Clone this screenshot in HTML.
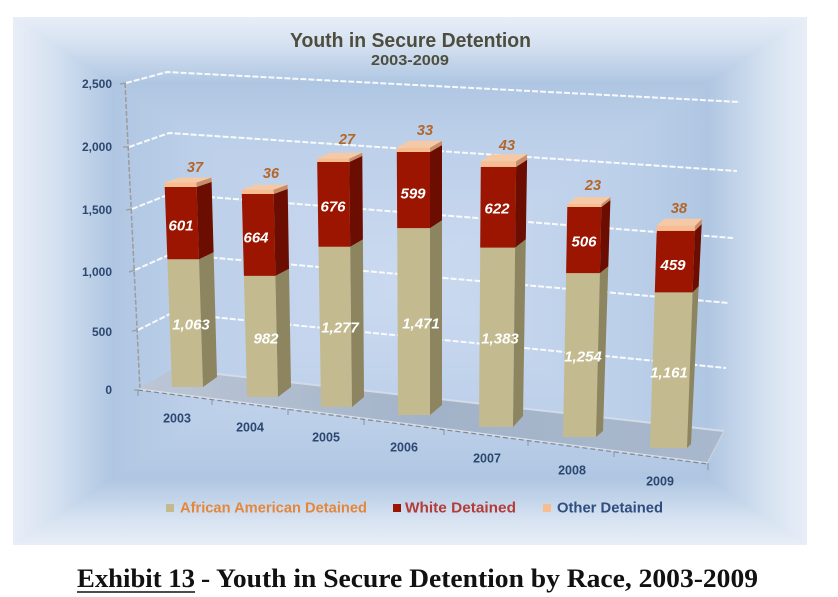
<!DOCTYPE html>
<html><head><meta charset="utf-8"><style>
html,body{margin:0;padding:0;background:#fff;}
svg{display:block;}
text{font-family:"Liberation Sans",Arial,sans-serif;}
</style></head><body>
<svg width="838" height="597" viewBox="0 0 838 597" xmlns="http://www.w3.org/2000/svg">
<defs>
<linearGradient id="gT" gradientUnits="userSpaceOnUse" x1="0" y1="17" x2="0" y2="281">
<stop offset="0" stop-color="#e8eef7"/><stop offset="0.1" stop-color="#d6e2f1"/><stop offset="0.25" stop-color="#afc6e2"/><stop offset="0.45" stop-color="#bccfe9"/><stop offset="1" stop-color="#cbdaf0"/></linearGradient>
<linearGradient id="gB" gradientUnits="userSpaceOnUse" x1="0" y1="545" x2="0" y2="281">
<stop offset="0" stop-color="#e8eef7"/><stop offset="0.1" stop-color="#d6e2f1"/><stop offset="0.25" stop-color="#afc6e2"/><stop offset="0.45" stop-color="#bccfe9"/><stop offset="1" stop-color="#cbdaf0"/></linearGradient>
<linearGradient id="gL" gradientUnits="userSpaceOnUse" x1="13" y1="0" x2="410" y2="0">
<stop offset="0" stop-color="#e8eef7"/><stop offset="0.1" stop-color="#d6e2f1"/><stop offset="0.25" stop-color="#afc6e2"/><stop offset="0.45" stop-color="#bccfe9"/><stop offset="1" stop-color="#cbdaf0"/></linearGradient>
<linearGradient id="gR" gradientUnits="userSpaceOnUse" x1="807" y1="0" x2="410" y2="0">
<stop offset="0" stop-color="#e8eef7"/><stop offset="0.1" stop-color="#d6e2f1"/><stop offset="0.25" stop-color="#afc6e2"/><stop offset="0.45" stop-color="#bccfe9"/><stop offset="1" stop-color="#cbdaf0"/></linearGradient>
<linearGradient id="gFloor" gradientUnits="userSpaceOnUse" x1="138" y1="0" x2="724" y2="0">
<stop offset="0" stop-color="#bcc6d5"/><stop offset="0.5" stop-color="#a2b3c9"/><stop offset="1" stop-color="#a9b8cc"/></linearGradient>
</defs>

<!-- background panel (rectangular gradient) -->
<g shape-rendering="crispEdges">
<polygon points="13,17 807,17 410,281" fill="url(#gT)"/>
<polygon points="13,545 807,545 410,281" fill="url(#gB)"/>
<polygon points="13,17 13,545 410,281" fill="url(#gL)"/>
<polygon points="807,17 807,545 410,281" fill="url(#gR)"/>
</g>

<!-- gridlines -->
<g fill="none" stroke="#ffffff" stroke-width="2" stroke-dasharray="6 2" opacity="0.9">
<polyline points="126,83 167,72 740,102"/>
<polyline points="129,147 169,133 737,171"/>
<polyline points="132,209 170,194 733,238"/>
<polyline points="135,270 171,254 729,303"/>
<polyline points="138,330 172,313 726,368"/>
</g>

<!-- y axis -->
<line x1="125" y1="83" x2="140" y2="390" stroke="#9c9c9c" stroke-width="1.5" stroke-dasharray="5 2"/>
<g stroke="#9c9c9c" stroke-width="1.2">
<line x1="120" y1="84" x2="126" y2="83"/>
<line x1="123" y1="147" x2="129" y2="147"/>
<line x1="126" y1="210" x2="132" y2="209"/>
<line x1="129" y1="272" x2="135" y2="270"/>
<line x1="132" y1="331" x2="138" y2="330"/>
<line x1="134" y1="390" x2="140" y2="390"/>
</g>

<!-- floor -->
<polygon points="138,389 173,369 724,431 708,462" fill="url(#gFloor)"/>
<polyline points="173,369 724,431" fill="none" stroke="#d2dbe7" stroke-width="2"/>
<line x1="138" y1="389" x2="708" y2="463" stroke="#d9dee6" stroke-width="1.5"/>
<line x1="138" y1="390" x2="708" y2="464" stroke="#7f8896" stroke-width="1.2" stroke-dasharray="5 3"/>
<line x1="708" y1="462" x2="724" y2="431" stroke="#c8d0dc" stroke-width="1.5"/>
<g stroke="#8a929e" stroke-width="1">
<line x1="138" y1="390" x2="138" y2="396"/>
<line x1="212" y1="399" x2="212" y2="405"/>
<line x1="288" y1="409" x2="288" y2="415"/>
<line x1="364" y1="419" x2="364" y2="425"/>
<line x1="444" y1="429" x2="444" y2="435"/>
<line x1="528" y1="440" x2="528" y2="446"/>
<line x1="614" y1="451" x2="614" y2="457"/>
<line x1="708" y1="463" x2="708" y2="470"/>
</g>

<!-- bars -->
<g stroke="none">
<!-- 2003 -->
<polygon points="172,387 203,387 199,259.2 167.4,259.2" fill="#c3ba8f"/>
<polygon points="167.4,259.2 199,259.2 196.6,187 164.7,187" fill="#9b1500"/>
<polygon points="164.7,187 196.6,187 196.5,182.5 164.6,182.5" fill="#f7bd90"/>
<polygon points="203,387 199,259.2 213.6,252.3 217,377" fill="#8d855f"/>
<polygon points="199,259.2 196.6,187 211.6,181.9 213.6,252.3" fill="#6b0d00"/>
<polygon points="196.6,187 196.5,182.5 211.5,177.5 211.6,181.9" fill="#c98e68"/>
<polygon points="164.6,182.5 196.5,182.5 211.5,177.5 179.6,177.5" fill="#f5c9a5"/>
<!-- 2004 -->
<polygon points="247,397 278,397 275.4,275.9 243.9,275.9" fill="#c3ba8f"/>
<polygon points="243.9,275.9 275.4,275.9 273.7,194 241.8,194" fill="#9b1500"/>
<polygon points="241.8,194 273.7,194 273.6,189.6 241.7,189.6" fill="#f7bd90"/>
<polygon points="278,397 275.4,275.9 289,268.8 291,387" fill="#8d855f"/>
<polygon points="275.4,275.9 273.7,194 287.7,188.9 289,268.8" fill="#6b0d00"/>
<polygon points="273.7,194 273.6,189.6 287.6,184.6 287.7,188.9" fill="#c98e68"/>
<polygon points="241.7,189.6 273.6,189.6 287.6,184.6 255.7,184.6" fill="#f5c9a5"/>
<!-- 2005 -->
<polygon points="321,407 352,407 350.2,246.8 318.5,246.8" fill="#c3ba8f"/>
<polygon points="318.5,246.8 350.2,246.8 349.3,162 317.2,162" fill="#9b1500"/>
<polygon points="317.2,162 349.3,162 349.3,158.6 317.2,158.6" fill="#f7bd90"/>
<polygon points="352,407 350.2,246.8 362.9,239.4 364,397" fill="#8d855f"/>
<polygon points="350.2,246.8 349.3,162 362.3,155.9 362.9,239.4" fill="#6b0d00"/>
<polygon points="349.3,162 349.3,158.6 362.3,152.6 362.3,155.9" fill="#c98e68"/>
<polygon points="317.2,158.6 349.3,158.6 362.3,152.6 330.2,152.6" fill="#f5c9a5"/>
<!-- 2006 -->
<polygon points="398,415 430,415 430,228.1 397.2,228.1" fill="#c3ba8f"/>
<polygon points="397.2,228.1 430,228.1 430,152 396.8,152" fill="#9b1500"/>
<polygon points="396.8,152 430,152 430,147.8 396.8,147.8" fill="#f7bd90"/>
<polygon points="430,415 430,228.1 442,220.2 442,405" fill="#8d855f"/>
<polygon points="430,228.1 430,152 442,145 442,220.2" fill="#6b0d00"/>
<polygon points="430,152 430,147.8 442,140.8 442,145" fill="#c98e68"/>
<polygon points="396.8,147.8 430,147.8 442,140.8 408.8,140.8" fill="#f5c9a5"/>
<!-- 2007 -->
<polygon points="479,427 513,427 515.1,247.6 480.2,247.6" fill="#c3ba8f"/>
<polygon points="480.2,247.6 515.1,247.6 516.1,166.9 480.8,166.9" fill="#9b1500"/>
<polygon points="480.8,166.9 516.1,166.9 516.1,161.3 480.8,161.3" fill="#f7bd90"/>
<polygon points="513,427 515.1,247.6 525.8,239.3 523,416" fill="#8d855f"/>
<polygon points="515.1,247.6 516.1,166.9 527.1,159.8 525.8,239.3" fill="#6b0d00"/>
<polygon points="516.1,166.9 516.1,161.3 527.1,154.3 527.1,159.8" fill="#c98e68"/>
<polygon points="480.8,161.3 516.1,161.3 527.1,154.3 491.8,154.3" fill="#f5c9a5"/>
<!-- 2008 -->
<polygon points="563,437 596,437 599.9,273.1 566.1,273.1" fill="#c3ba8f"/>
<polygon points="566.1,273.1 599.9,273.1 601.4,207 567.3,207" fill="#9b1500"/>
<polygon points="567.3,207 601.4,207 601.5,204 567.4,204" fill="#f7bd90"/>
<polygon points="596,437 599.9,273.1 608.3,266.4 603,431" fill="#8d855f"/>
<polygon points="599.9,273.1 601.4,207 610.4,200 608.3,266.4" fill="#6b0d00"/>
<polygon points="601.4,207 601.5,204 610.5,197 610.4,200" fill="#c98e68"/>
<polygon points="567.4,204 601.5,204 610.5,197 576.4,197" fill="#f5c9a5"/>
<!-- 2009 -->
<polygon points="650,448 687,448 692.6,292.4 654.8,292.4" fill="#c3ba8f"/>
<polygon points="654.8,292.4 692.6,292.4 694.8,230.9 656.7,230.9" fill="#9b1500"/>
<polygon points="656.7,230.9 694.8,230.9 695.1,225.8 656.9,225.8" fill="#f7bd90"/>
<polygon points="687,448 692.6,292.4 698.7,286.3 691,444" fill="#8d855f"/>
<polygon points="692.6,292.4 694.8,230.9 701.7,224 698.7,286.3" fill="#6b0d00"/>
<polygon points="694.8,230.9 695.1,225.8 702.1,218.8 701.7,224" fill="#c98e68"/>
<polygon points="656.9,225.8 695.1,225.8 702.1,218.8 663.9,218.8" fill="#f5c9a5"/>
</g>

<!-- y labels -->
<g font-size="12" font-weight="bold" fill="#2c4770" text-anchor="end">
<text x="112" y="88">2,500</text>
<text x="112" y="151">2,000</text>
<text x="112" y="214">1,500</text>
<text x="112" y="276">1,000</text>
<text x="112" y="336">500</text>
<text x="112" y="394">0</text>
</g>

<!-- category labels -->
<g font-size="12.5" font-weight="bold" fill="#2c4770" text-anchor="middle">
<text x="177" y="422.5">2003</text>
<text x="250" y="431.5">2004</text>
<text x="326" y="441.5">2005</text>
<text x="404" y="451.5">2006</text>
<text x="487" y="462.5">2007</text>
<text x="572" y="474.5">2008</text>
<text x="660" y="485.5">2009</text>
</g>

<!-- data labels -->
<g font-size="15" font-weight="bold" font-style="italic" fill="#ffffff" text-anchor="middle">
<text x="181" y="230.5">601</text>
<text x="256" y="242.5">664</text>
<text x="333" y="211.5">676</text>
<text x="413" y="198.5">599</text>
<text x="497" y="213.5">622</text>
<text x="584" y="246.5">506</text>
<text x="673" y="270">459</text>
<text x="191" y="329.5">1,063</text>
<text x="266" y="343.5">982</text>
<text x="340" y="332.5">1,277</text>
<text x="421" y="328.5">1,471</text>
<text x="500" y="343.5">1,383</text>
<text x="583" y="361.5">1,254</text>
<text x="669" y="377.5">1,161</text>
</g>
<g font-size="14.5" font-weight="bold" font-style="italic" fill="#b3662a" text-anchor="middle">
<text x="195" y="172">37</text>
<text x="271" y="178">36</text>
<text x="347" y="144">27</text>
<text x="425" y="135">33</text>
<text x="507" y="150">43</text>
<text x="593" y="190">23</text>
<text x="679" y="213">38</text>
</g>

<!-- legend -->
<rect x="166" y="504" width="8" height="8" fill="#c3ba8f"/>
<text x="180" y="512.5" font-size="15" font-weight="bold" fill="#e3873d" textLength="187" lengthAdjust="spacingAndGlyphs">African American Detained</text>
<rect x="393" y="504" width="8" height="8" fill="#9b1500"/>
<text x="405" y="512.5" font-size="15" font-weight="bold" fill="#b33c38" textLength="111" lengthAdjust="spacingAndGlyphs">White Detained</text>
<rect x="543" y="504" width="8" height="8" fill="#f7bd90"/>
<text x="557" y="512.5" font-size="15" font-weight="bold" fill="#2f4d7e" textLength="106" lengthAdjust="spacingAndGlyphs">Other Detained</text>

<!-- title -->
<text x="290" y="47" font-size="20" font-weight="bold" fill="#4e4e3f" textLength="241" lengthAdjust="spacingAndGlyphs">Youth in Secure Detention</text>
<text x="371" y="65" font-size="14.5" font-weight="bold" fill="#4e4e3f" textLength="78" lengthAdjust="spacingAndGlyphs">2003-2009</text>

<!-- caption -->
<g font-family="'Liberation Serif','Times New Roman',serif" font-size="26" font-weight="bold" fill="#111111">
<text x="77" y="587" style="font-family:'Liberation Serif',serif" textLength="118" lengthAdjust="spacingAndGlyphs">Exhibit 13</text>
<text x="201" y="587" style="font-family:'Liberation Serif',serif" textLength="557" lengthAdjust="spacingAndGlyphs">- Youth in Secure Detention by Race, 2003-2009</text>
</g>
<line x1="77" y1="592" x2="195" y2="592" stroke="#111111" stroke-width="1.6"/>
</svg>
</body></html>
